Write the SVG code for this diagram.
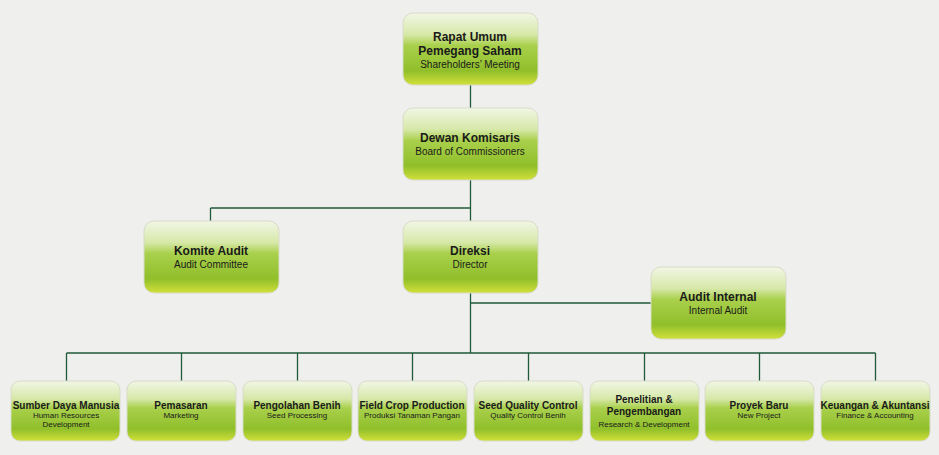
<svg xmlns="http://www.w3.org/2000/svg" width="939" height="455" viewBox="0 0 939 455">
<defs>
<linearGradient id="g" x1="0" y1="0" x2="0" y2="1">
<stop offset="0" stop-color="#f2f6e6"/>
<stop offset="0.3" stop-color="#d6e8a8"/>
<stop offset="0.45" stop-color="#a9d04c"/>
<stop offset="0.8" stop-color="#90bf2a"/>
<stop offset="1" stop-color="#d2e03a"/>
</linearGradient>
<style>
.b{fill:url(#g);stroke:#d8dcc8;stroke-width:1}
.t{font-family:"Liberation Sans",Arial,sans-serif;font-weight:bold;font-size:12px;fill:#1a1a1a;text-anchor:middle}
.s{font-family:"Liberation Sans",Arial,sans-serif;font-size:10px;fill:#1a1a1a;text-anchor:middle}
.st{font-family:"Liberation Sans",Arial,sans-serif;font-weight:bold;font-size:10px;fill:#1a1a1a;text-anchor:middle}
.ss{font-family:"Liberation Sans",Arial,sans-serif;font-size:8px;fill:#1a1a1a;text-anchor:middle}
.c{stroke:#1f5a3a;stroke-width:1.3;fill:none}
</style>
</defs>
<rect width="939" height="455" fill="#efefed"/>
<g id="connectors" class="c">
<path d="M470.5 85V108M470.5 180V221M210.5 208H470.5M210.5 208V221M470.5 293V353M470.5 303H651M66.5 353H875.5"/>
<path d="M66.5 353V381M181.5 353V381M297.5 353V381M412.5 353V381M528.5 353V381M644.5 353V381M759.5 353V381M875.5 353V381"/>
</g>
<g id="rups"><rect class="b" x="403" y="13" width="135" height="72" rx="10"/><text class="t" x="470" y="41">Rapat Umum</text><text class="t" x="470" y="55">Pemegang Saham</text><text class="s" x="470" y="68">Shareholders’ Meeting</text></g>
<g id="dewan"><rect class="b" x="403" y="108" width="135" height="72" rx="10"/><text class="t" x="470" y="142">Dewan Komisaris</text><text class="s" x="470" y="155">Board of Commissioners</text></g>
<g id="komite"><rect class="b" x="144" y="221" width="135" height="72" rx="10"/><text class="t" x="211" y="255">Komite Audit</text><text class="s" x="211" y="268">Audit Committee</text></g>
<g id="direksi"><rect class="b" x="403" y="221" width="135" height="72" rx="10"/><text class="t" x="470" y="255">Direksi</text><text class="s" x="470" y="268">Director</text></g>
<g id="audit"><rect class="b" x="651" y="267" width="135" height="72" rx="10"/><text class="t" x="718" y="301">Audit Internal</text><text class="s" x="718" y="314">Internal Audit</text></g>
<g id="sdm"><rect class="b" x="11" y="381" width="109" height="60" rx="9"/><text class="st" x="66" y="409">Sumber Daya Manusia</text><text class="ss" x="66" y="418">Human Resources</text><text class="ss" x="66" y="427">Development</text></g>
<g id="pemasaran"><rect class="b" x="127" y="381" width="109" height="60" rx="9"/><text class="st" x="181" y="409">Pemasaran</text><text class="ss" x="181" y="418">Marketing</text></g>
<g id="pengolahan"><rect class="b" x="243" y="381" width="109" height="60" rx="9"/><text class="st" x="297" y="409">Pengolahan Benih</text><text class="ss" x="297" y="418">Seed Processing</text></g>
<g id="fieldcrop"><rect class="b" x="358" y="381" width="109" height="60" rx="9"/><text class="st" x="412" y="409">Field Crop Production</text><text class="ss" x="412" y="418">Produksi Tanaman Pangan</text></g>
<g id="sqc"><rect class="b" x="474" y="381" width="109" height="60" rx="9"/><text class="st" x="528" y="409">Seed Quality Control</text><text class="ss" x="528" y="418">Quality Control Benih</text></g>
<g id="litbang"><rect class="b" x="590" y="381" width="109" height="60" rx="9"/><text class="st" x="644" y="403">Penelitian &amp;</text><text class="st" x="644" y="415">Pengembangan</text><text class="ss" x="644" y="427">Research &amp; Development</text></g>
<g id="proyek"><rect class="b" x="705" y="381" width="109" height="60" rx="9"/><text class="st" x="759" y="409">Proyek Baru</text><text class="ss" x="759" y="418">New Project</text></g>
<g id="keuangan"><rect class="b" x="821" y="381" width="109" height="60" rx="9"/><text class="st" x="875" y="409">Keuangan &amp; Akuntansi</text><text class="ss" x="875" y="418">Finance &amp; Accounting</text></g>
</svg>
